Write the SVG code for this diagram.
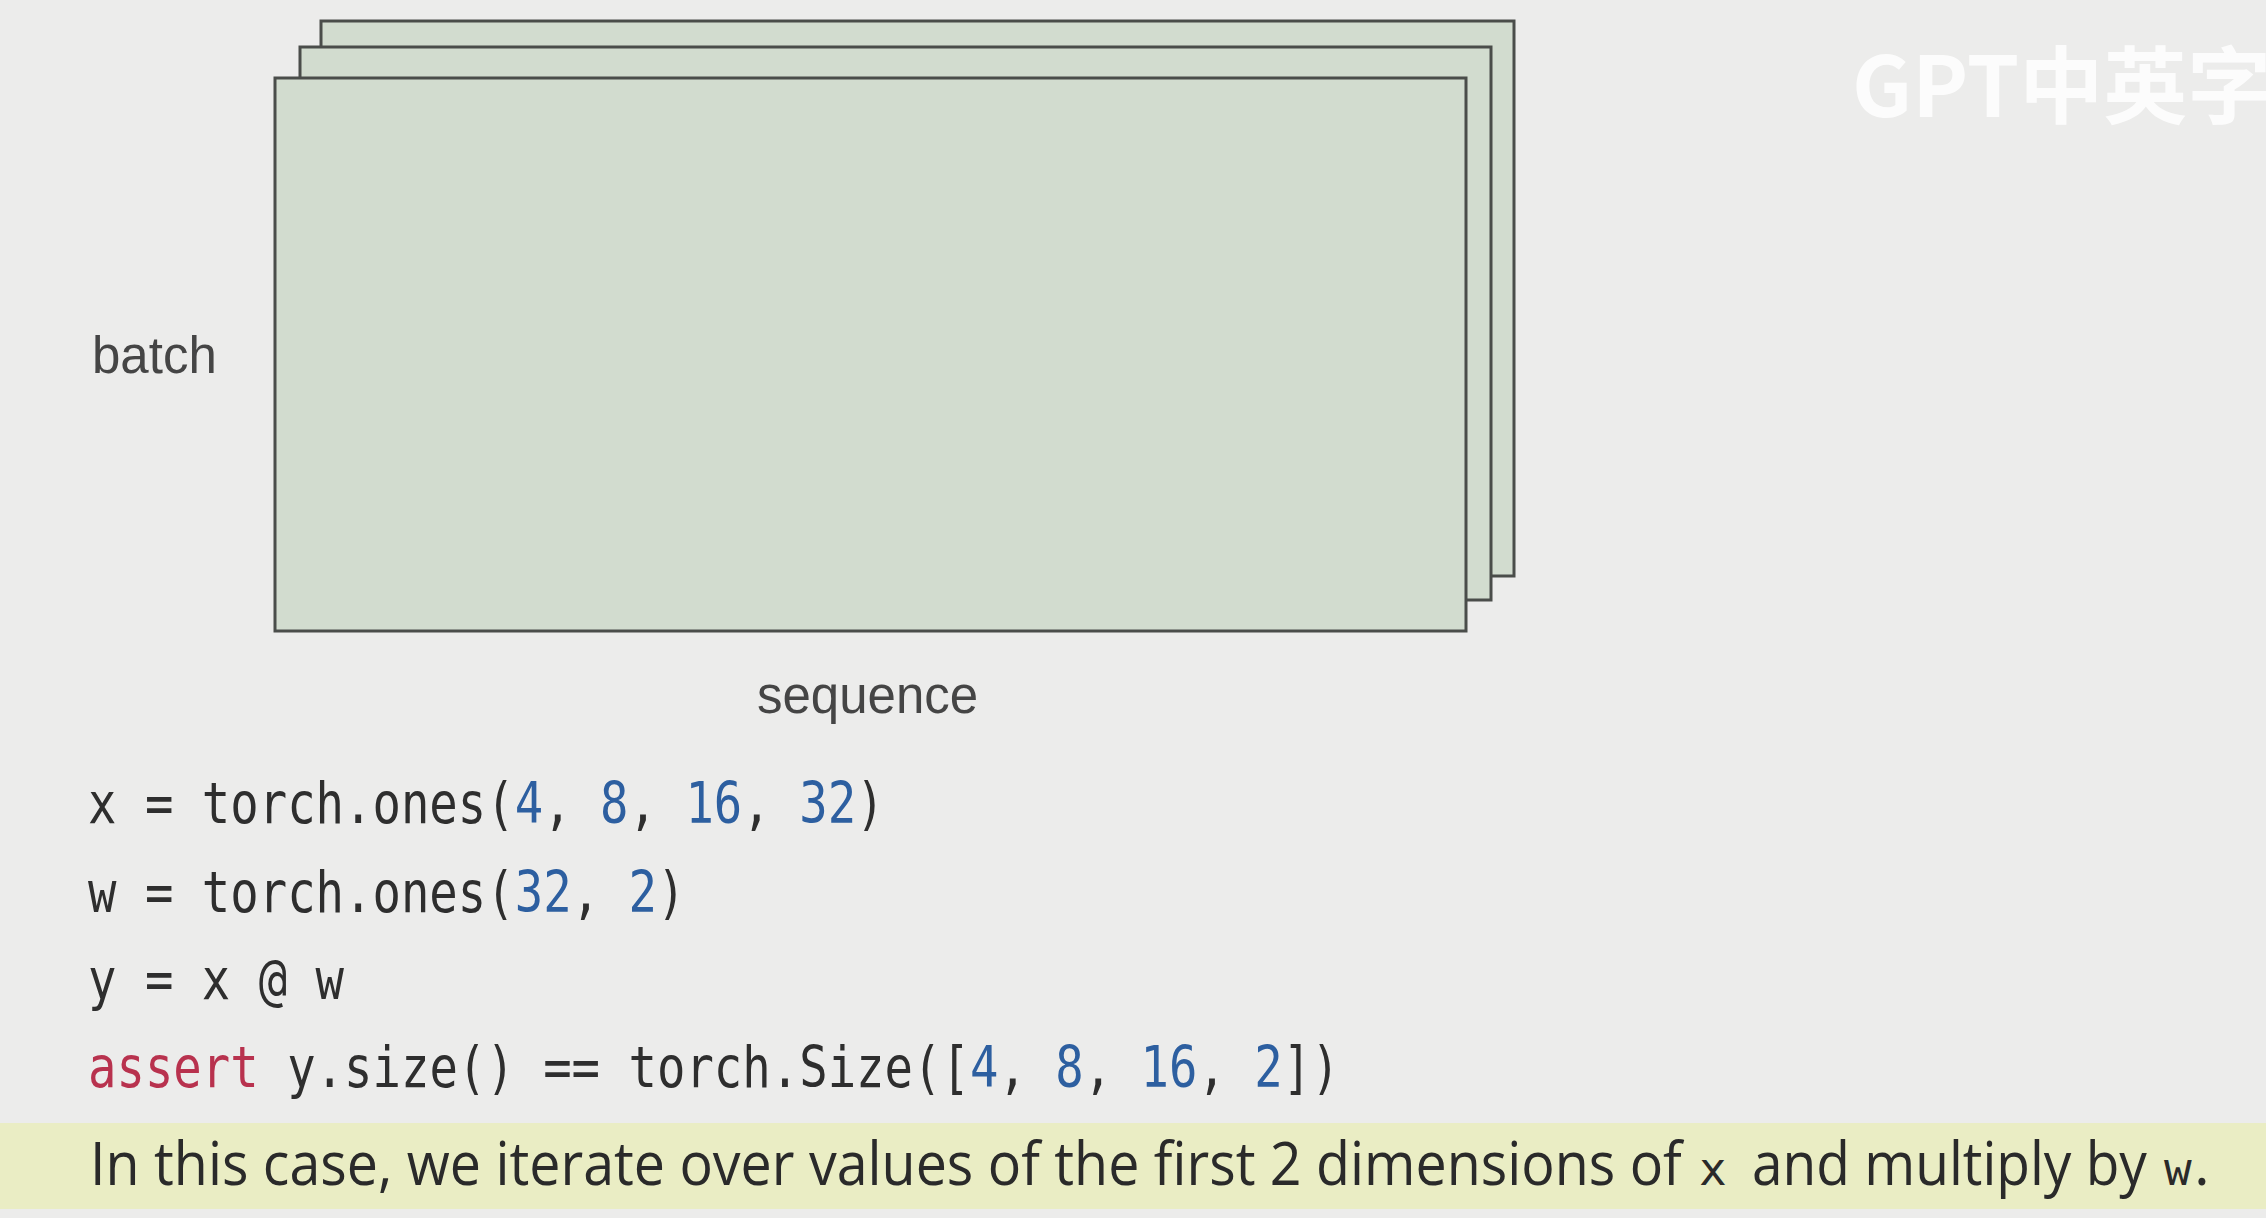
<svg xmlns="http://www.w3.org/2000/svg" width="2266" height="1218" viewBox="0 0 2266 1218">
<style>
.sheet{fill:#d2dccf;stroke:#4a4d4a;stroke-width:3}
.lbl{font-family:"Liberation Sans",Arial,sans-serif;font-size:51px;fill:#454545}
.code{font-family:"DejaVu Sans Mono","Liberation Mono",monospace;font-size:57px;fill:#2e2e2e}
.num{fill:#2d5fa0}
.kw{fill:#b8324e}
.cap{font-family:"Open Sans","Noto Sans",sans-serif;font-size:60px;fill:#2a2a2a}
.capm{font-family:"DejaVu Sans Mono",monospace;font-size:46px;fill:#2a2a2a}
</style>
<rect x="0" y="0" width="2266" height="1218" fill="#ececeb"/>
<g id="watermark">
<text x="1852" y="117" font-family="'Noto Sans CJK SC',sans-serif" font-weight="bold" font-size="84" fill="#ffffff" fill-opacity="0.85">GPT中英字幕</text>
</g>
<g id="sheet-back"><rect class="sheet" x="321" y="21" width="1193" height="555"/></g>
<g id="sheet-middle"><rect class="sheet" x="300" y="47" width="1191" height="553"/></g>
<g id="sheet-front"><rect class="sheet" x="275" y="78" width="1191" height="553"/></g>
<g id="label-batch"><text class="lbl" x="92" y="373">batch</text></g>
<g id="label-sequence"><text class="lbl" x="757" y="713">sequence</text></g>
<g id="connectors"></g>
<g id="code">
<g transform="translate(88 0) scale(0.8292 1)">
<text class="code" x="0" y="823">x = torch.ones(<tspan class="num">4</tspan>, <tspan class="num">8</tspan>, <tspan class="num">16</tspan>, <tspan class="num">32</tspan>)</text>
<text class="code" x="0" y="912">w = torch.ones(<tspan class="num">32</tspan>, <tspan class="num">2</tspan>)</text>
<text class="code" x="0" y="999">y = x @ w</text>
<text class="code" x="0" y="1087"><tspan class="kw">assert</tspan> y.size() == torch.Size([<tspan class="num">4</tspan>, <tspan class="num">8</tspan>, <tspan class="num">16</tspan>, <tspan class="num">2</tspan>])</text>
</g>
</g>
<g id="caption">
<rect x="0" y="1123" width="2266" height="86" fill="#eaedc4"/>
<g transform="translate(90 0) scale(0.926 1)"><text class="cap" x="0" y="1185">In this case, we iterate over values of the first 2 dimensions of</text></g>
<text class="capm" x="1699" y="1185">x</text>
<g transform="translate(1752 0) scale(0.917 1)"><text class="cap" x="0" y="1185">and multiply by</text></g>
<text class="capm" x="2164" y="1185">w</text>
<text class="cap" x="2194" y="1185">.</text>
</g>
</svg>
